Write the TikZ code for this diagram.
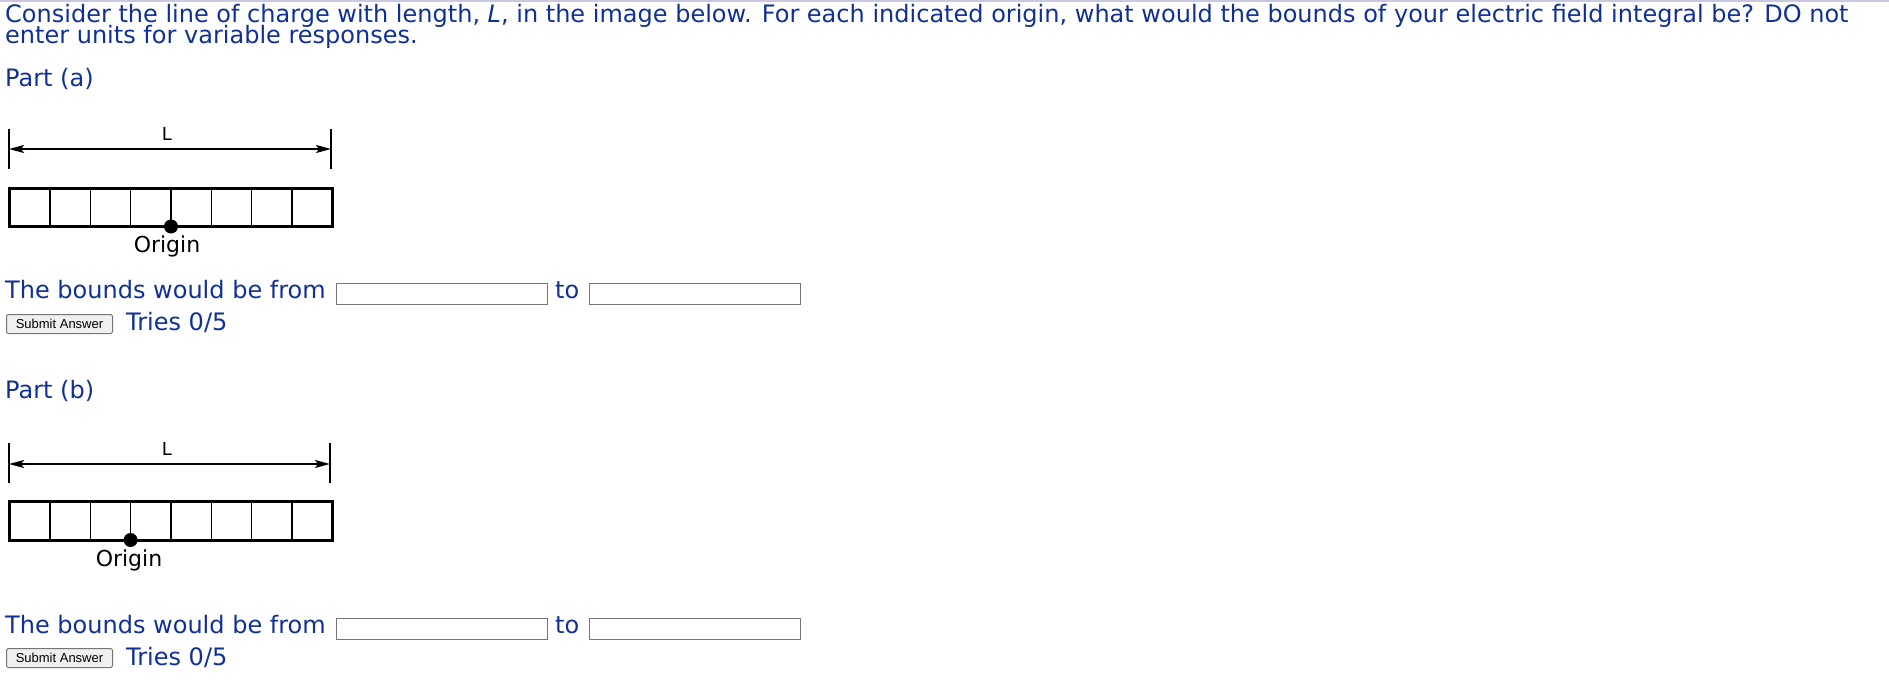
\documentclass[tikz,border=0pt]{standalone}
\usepackage{fontspec}
\setmainfont{DejaVu Sans}
\newfontfamily\arialfont{Liberation Sans}
\usetikzlibrary{arrows.meta}
\definecolor{qblue}{RGB}{16,48,150}
\definecolor{boxgray}{RGB}{118,118,118}
\definecolor{btnfill}{RGB}{239,239,239}
\definecolor{topgray}{RGB}{200,200,225}
\begin{document}
\begin{tikzpicture}[x=1pt,y=-1pt,
  hdr/.style={anchor=base west, inner sep=0pt, text=qblue, font=\fontsize{24}{24}\selectfont},
  qtext/.style={anchor=base west, inner sep=0pt, text=qblue, font=\fontsize{24}{24}\selectfont},
  inbox/.style={draw=boxgray, line width=1.3pt, fill=white, minimum width=211pt, minimum height=21pt, inner sep=0pt, anchor=north west},
  btn/.style={draw=boxgray, line width=1pt, fill=btnfill, rounded corners=1.5pt, font=\arialfont\fontsize{13}{13}\selectfont, text=black, minimum width=106pt, minimum height=19pt, inner sep=0pt, anchor=north west},
  tick/.style={line width=2pt, black},
  dim/.style={line width=1.5pt, black, {Stealth[length=15pt,width=8pt,inset=3pt]}-{Stealth[length=15pt,width=8pt,inset=3pt]}},
  bar/.style={line width=3pt, black},
  cell/.style={line width=1.3pt, black},
  dot/.style={circle, fill=black, minimum size=14pt, inner sep=0pt},
  lbl/.style={inner sep=0pt, text=black},
  topline/.style={line width=1.5pt, topgray}]
\useasboundingbox (0,0) rectangle (1889,680);
\draw[topline] (0,1) -- (1889,1);
\node[hdr] (h1) at (5,22) {Consider the line of charge with length, \textit{L}, in the image below. For each indicated origin, what would the bounds of your electric field integral be? DO not};
\node[hdr] (h2) at (5,43) {enter units for variable responses.};
% ---------- Part (a)
\node[qtext] (pa) at (5,86) {Part (a)};
\coordinate (at1) at (9,129); \coordinate (ab1) at (9,169);
\coordinate (at2) at (331,129); \coordinate (ab2) at (331,169);
\draw[tick] (at1) -- (ab1);
\draw[tick] (at2) -- (ab2);
\coordinate (aa1) at (9,149); \coordinate (aa2) at (331,149);
\draw[dim] (aa1) -- (aa2);
\node[lbl, font=\fontsize{18}{18}\selectfont] (La) at (167,134) {L};
\draw[bar] (9.5,188.5) rectangle (332.5,226.5);
\foreach \i in {1,...,7} \draw[cell] (9.5+\i*40.375,188.5) -- ++(0,38);
\node[dot] (oa) at (171,226.5) {};
\node[lbl, font=\fontsize{22}{22}\selectfont, anchor=base] (ola) at (167,252) {Origin};
\node[qtext] (ba) at (5,298) {The bounds would be from};
\node[inbox] (a1) at (336,283) {};
\node[qtext] (toa) at (555,298) {to};
\node[inbox] (a2) at (589,283) {};
\node[btn] (sa) at (6,314) {Submit Answer};
\node[qtext] (ta) at (126,330) {Tries 0/5};
% ---------- Part (b)
\node[qtext] (pb) at (5,398) {Part (b)};
\coordinate (bt1) at (9,443); \coordinate (bb1) at (9,483);
\coordinate (bt2) at (330,443); \coordinate (bb2) at (330,483);
\draw[tick] (bt1) -- (bb1);
\draw[tick] (bt2) -- (bb2);
\coordinate (ba1) at (9,464); \coordinate (ba2) at (330,464);
\draw[dim] (ba1) -- (ba2);
\node[lbl, font=\fontsize{18}{18}\selectfont] (Lb) at (167,449) {L};
\draw[bar] (9.5,501.5) rectangle (332.5,540);
\foreach \i in {1,...,7} \draw[cell] (9.5+\i*40.375,501.5) -- ++(0,38.5);
\node[dot] (ob) at (130.6,540) {};
\node[lbl, font=\fontsize{22}{22}\selectfont, anchor=base] (olb) at (129,566) {Origin};
\node[qtext] (bb) at (5,633) {The bounds would be from};
\node[inbox] (b1) at (336,618) {};
\node[qtext] (tob) at (555,633) {to};
\node[inbox] (b2) at (589,618) {};
\node[btn] (sb) at (6,648) {Submit Answer};
\node[qtext] (tb) at (126,665) {Tries 0/5};
\end{tikzpicture}
\end{document}
